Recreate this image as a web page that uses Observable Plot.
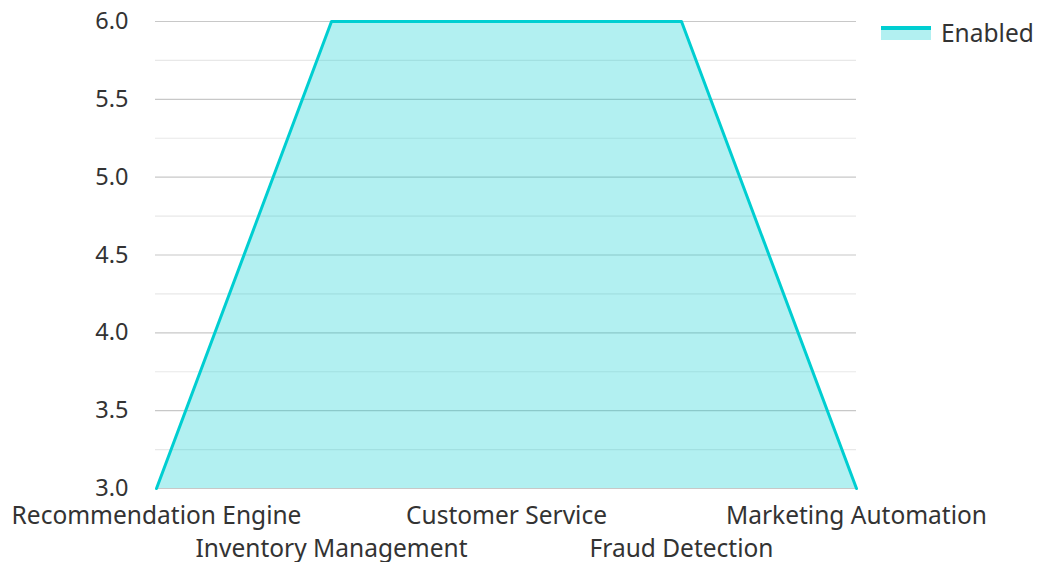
<!DOCTYPE html>
<html><head><meta charset="utf-8">
<script src="https://cdn.jsdelivr.net/npm/d3@7"></script>
<script src="https://cdn.jsdelivr.net/npm/@observablehq/plot@0.6"></script>
<style>
body{margin:0;background:#fff;font-family:"Noto Sans",sans-serif;}
#wrap{position:relative;width:1037px;height:562px;}
#legend{position:absolute;left:881px;top:16px;display:flex;align-items:center;font-size:24.5px;color:#333;}
#legend .sw{width:50px;height:14px;position:relative;margin-right:10px;background:rgba(0,206,209,0.3);}
#legend .sw:before{content:"";position:absolute;left:0;right:0;top:0;height:4px;background:#00CED1;}
</style></head><body>
<div id="wrap"><div id="legend"><span class="sw"></span><span>Enabled</span></div></div>
<script>
const categories = ["Recommendation Engine","Inventory Management","Customer Service","Fraud Detection","Marketing Automation"];
const values = [3, 6, 6, 6, 3];
const seriesName = "Enabled";
const majorTicks = [3.0,3.5,4.0,4.5,5.0,5.5,6.0];
const minorTicks = [3.25,3.75,4.25,4.75,5.25,5.75];

const data = categories.map((c,i)=>({cat:c, v:values[i]}));
const row1 = categories.filter((c,i)=>i%2===0);
const row2 = categories.filter((c,i)=>i%2===1);

const chart = Plot.plot({
  width:1037, height:562,
  marginLeft:155, marginRight:181, marginTop:21, marginBottom:74,
  style:{fontFamily:"Noto Sans, sans-serif", fontSize:"24px", color:"#333", background:"transparent"},
  x:{type:"point", domain:categories, padding:0},
  y:{domain:[3,6]},
  marks:[
    Plot.ruleY(minorTicks,{stroke:"#e8e8e8", strokeWidth:1.2}),
    Plot.ruleY(majorTicks,{stroke:"#c8c8c8", strokeWidth:1.2}),
    Plot.areaY(data,{x:"cat", y1:3, y2:"v", fill:"#00CED1", fillOpacity:0.3}),
    Plot.lineY(data,{x:"cat", y:"v", stroke:"#00CED1", strokeWidth:3}),
    Plot.axisY({ticks:majorTicks, tickFormat:d=>d.toFixed(1), tickSize:0, tickPadding:27, label:null, fontSize:23.5, fill:"#333"}),
    Plot.axisX({ticks:row1, tickSize:0, tickPadding:18, label:null, fontSize:24.5, fill:"#333"}),
    Plot.axisX({ticks:row2, tickSize:0, tickPadding:51, label:null, fontSize:24.5, fill:"#333"})
  ]
});
document.getElementById("wrap").prepend(chart);
</script>
</body></html>
